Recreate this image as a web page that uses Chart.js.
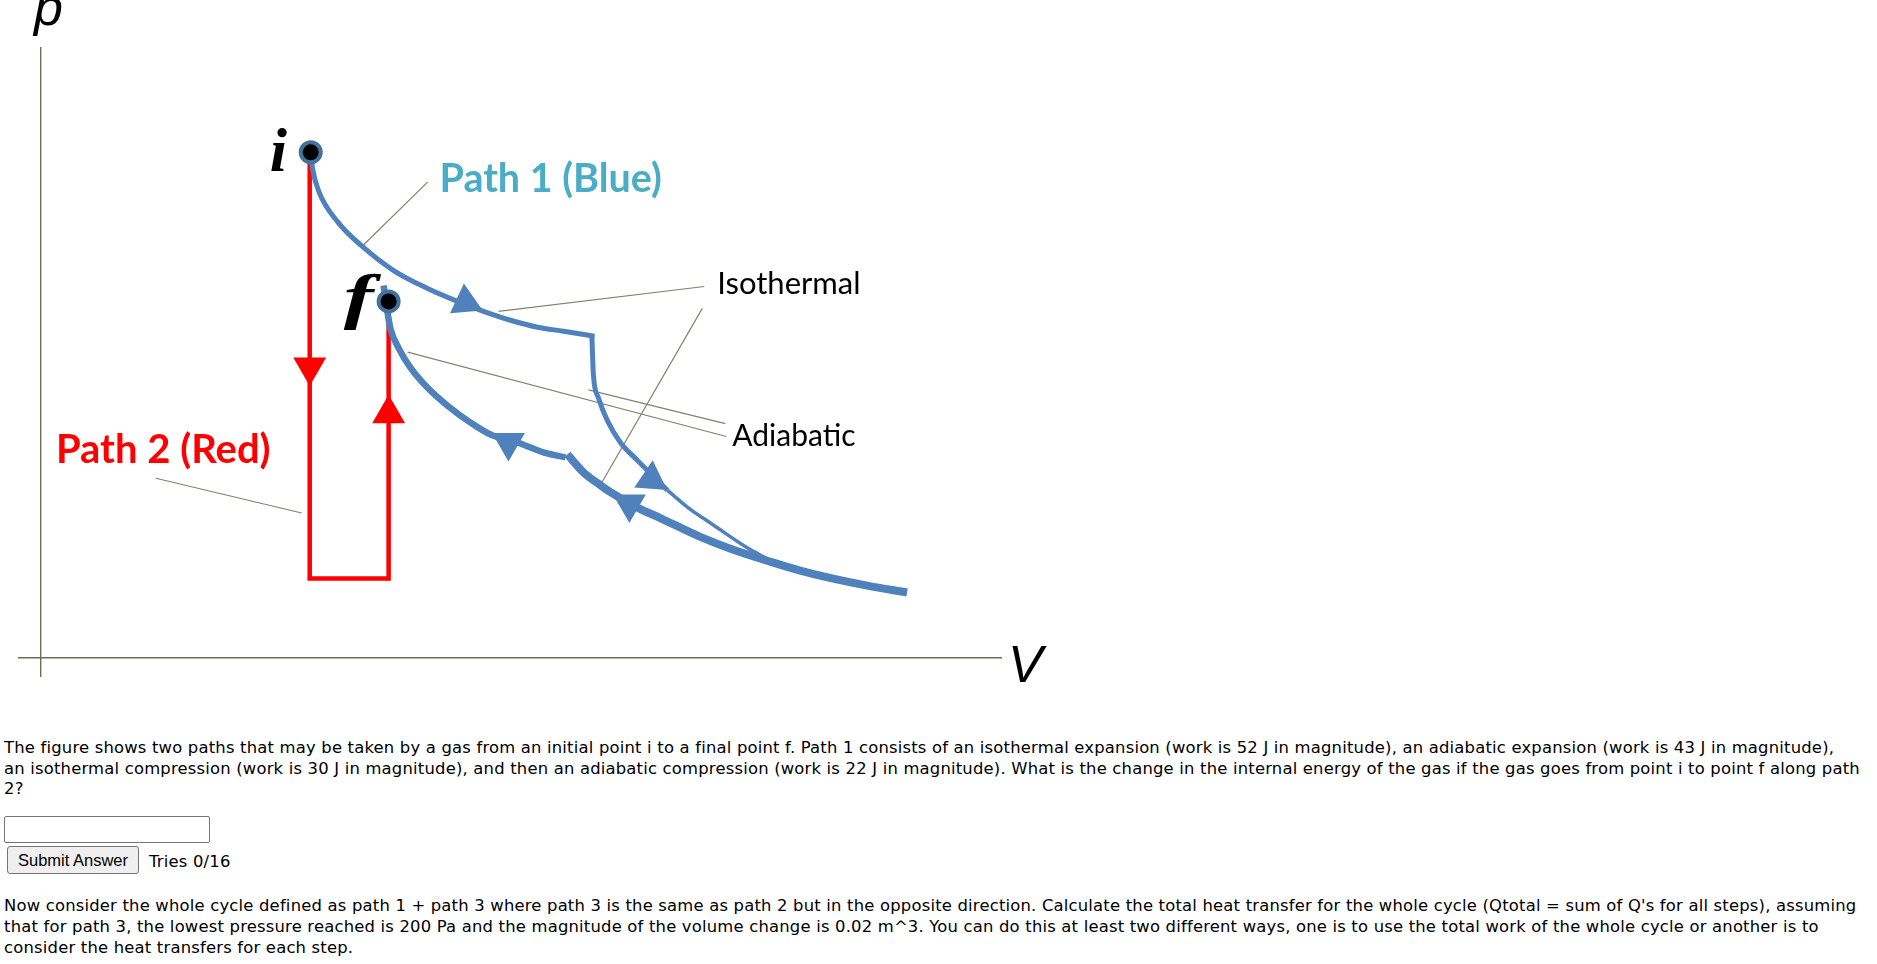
<!DOCTYPE html>
<html>
<head>
<meta charset="utf-8">
<title>Gas paths</title>
<script src="https://cdn.jsdelivr.net/npm/chart.js@4"></script>
<style>
  html, body { margin: 0; padding: 0; background: #fff; overflow: hidden; }
  #chartBox { position: absolute; left: 0; top: 0; width: 1100px; height: 720px; }
  .line { position: absolute; left: 4px; white-space: pre; font: 16.4px/21px "DejaVu Sans", sans-serif; letter-spacing: 0.2px; color: #000; }
  #answer { position: absolute; left: 4px; top: 816px; width: 200px; height: 23px; padding: 1px 2px; border: 1px solid #767676; border-radius: 2px; }
  #submit { position: absolute; left: 7px; top: 846px; width: 132px; height: 28px; padding: 0; font: 16.5px "Liberation Sans", sans-serif; background: #efefef; border: 1px solid #767676; border-radius: 3px; color: #000; }
</style>
</head>
<body>
<div id="chartBox"><canvas id="pvChart" width="1100" height="720"></canvas></div>

<div class="line" style="top:737px">The figure shows two paths that may be taken by a gas from an initial point i to a final point f. Path 1 consists of an isothermal expansion (work is 52 J in magnitude), an adiabatic expansion (work is 43 J in magnitude),</div>
<div class="line" style="top:758px">an isothermal compression (work is 30 J in magnitude), and then an adiabatic compression (work is 22 J in magnitude). What is the change in the internal energy of the gas if the gas goes from point i to point f along path</div>
<div class="line" style="top:778px">2?</div>
<input id="answer" type="text">
<button id="submit" type="button">Submit Answer</button>
<div class="line" style="top:851px;left:149px">Tries 0/16</div>
<div class="line" style="top:895px">Now consider the whole cycle defined as path 1 + path 3 where path 3 is the same as path 2 but in the opposite direction. Calculate the total heat transfer for the whole cycle (Qtotal = sum of Q's for all steps), assuming</div>
<div class="line" style="top:916px">that for path 3, the lowest pressure reached is 200 Pa and the magnitude of the volume change is 0.02 m^3. You can do this at least two different ways, one is to use the total work of the whole cycle or another is to</div>
<div class="line" style="top:937px">consider the heat transfers for each step.</div>

<script>
// values, arbitrary V / p units
const isoUpperV = [270, 272, 278, 297, 322, 353, 387, 417, 443, 470, 497, 523, 554];
const isoUpperP = [509, 492, 470, 439, 414, 390, 372, 359, 349, 340, 333, 329, 324];

const adiUpperV = [551.5, 552, 553, 558, 567, 580, 597, 627];
const adiUpperP = [325, 309, 285, 262, 239, 217, 199, 169];

const adiThinV = [627, 647, 673, 707, 727];
const adiThinP = [169, 152, 134, 111, 100];

const isoLowerV = [527, 543, 560, 570, 598, 620, 660, 693, 727, 760, 793, 827, 867];
const isoLowerP = [205, 187, 174, 167, 151, 141, 122, 109, 98, 88, 80, 73, 66];

const adiLowerV = [343, 345, 347, 350, 358, 370, 387, 407, 430, 450, 477, 503, 525];
const adiLowerP = [375, 360, 347, 331, 312, 292, 272, 254, 237, 225, 217, 207, 202];

const path2V = [269, 269, 348, 348];
const path2P = [509, 80, 80, 359];

const stateV = [270, 348];
const stateP = [509, 359];

const blueArrowV = [425, 611, 589, 468];
const blueArrowP = [358, 180, 155, 217];
const blueArrowAngle = [-5, 4, 180, 180];

const redArrowV = [269, 348];
const redArrowP = [293, 246];
const redArrowAngle = [180, 0];

// callout lines, null breaks the line
const leaderV = [321, 387, null, 458, 664, null, 367, 686, null, 548, 685, null, 561, 662, null, 115, 261];
const leaderP = [414, 479, null, 349, 374, null, 308, 223, null, 270, 236, null, 176, 352, null, 181, 146];

const BLUE = '#4f81bd';
const RED = '#ff0000';

const toPoints = (vs, ps) => vs.map((v, i) => ({ x: v, y: ps[i] }));

function straight(vs, ps, width, color, order) {
    return {
        type: 'line',
        data: toPoints(vs, ps),
        borderColor: color,
        borderWidth: width,
        tension: 0,
        pointRadius: 0,
        fill: false,
        order: order
    };
}

// Monotone keeps the curves from wobbling between read-off points
function smooth(vs, ps, width) {
    const ds = straight(vs, ps, width, BLUE, 4);
    ds.cubicInterpolationMode = 'monotone';
    return ds;
}

function arrows(vs, ps, angles, color) {
    return {
        type: 'scatter',
        data: toPoints(vs, ps),
        showLine: false,
        pointStyle: 'triangle',
        pointRadius: 19,
        pointRotation: angles,
        pointBackgroundColor: color,
        pointBorderWidth: 0,
        order: 3
    };
}

// Text on the figure, anchored in data units so it moves with the scales
const figureText = [
    { text: 'Path 1 (Blue)', v: 399, p: 469, font: 'bold 39.5px Lato', color: '#4bacc6' },
    { text: 'Path 2 (Red)', v: 15, p: 196, font: 'bold 40px Lato', color: RED },
    { text: 'Isothermal', v: 677, p: 366, font: '31px Lato', color: '#000' },
    { text: 'Adiabatic', v: 692, p: 213, font: '30px Lato', color: '#000' },
    { text: 'i', v: 229, p: 490, font: 'italic bold 62px "Liberation Serif"', color: '#000' },
    { text: 'f', v: 303, p: 343, font: 'italic bold 62px "Liberation Serif"', color: '#000', stretch: 1.45 },
    { text: 'V', v: 968, p: -24, font: 'italic 52px "Liberation Sans"', color: '#000' },
    { text: 'p', v: -7, p: 637, font: 'italic 52px "Liberation Sans"', color: '#000' }
];

const textPlugin = {
    id: 'figureText',
    afterDraw(chart) {
        const { ctx, scales } = chart;
        figureText.forEach(t => {
            ctx.save();
            ctx.textBaseline = 'alphabetic';
            ctx.font = t.font;
            ctx.fillStyle = t.color;
            ctx.translate(scales.x.getPixelForValue(t.v), scales.y.getPixelForValue(t.p));
            ctx.scale(t.stretch || 1, 1);
            ctx.fillText(t.text, 0, 0);
            ctx.restore();
        });
    }
};

new Chart(document.getElementById('pvChart'), {
    data: {
        datasets: [
            straight(leaderV, leaderP, 1.2, '#85816f', 6),
            straight(path2V, path2P, 4.5, RED, 5),
            smooth(isoUpperV, isoUpperP, 5),
            smooth(adiUpperV, adiUpperP, 5),
            smooth(adiThinV, adiThinP, 3.5),
            smooth(isoLowerV, isoLowerP, 8),
            smooth(adiLowerV, adiLowerP, 6.5),
            arrows(blueArrowV, blueArrowP, blueArrowAngle, BLUE),
            arrows(redArrowV, redArrowP, redArrowAngle, RED),
            {
                type: 'scatter',
                data: toPoints(stateV, stateP),
                showLine: false,
                pointRadius: 10,
                pointBackgroundColor: '#000',
                pointBorderColor: '#41719c',
                pointBorderWidth: 4,
                order: 2
            }
        ]
    },
    options: {
        responsive: false,
        animation: false,
        clip: false,
        layout: { padding: { left: 18, right: 99, top: 48, bottom: 44 } },
        plugins: { legend: { display: false }, tooltip: { enabled: false } },
        scales: {
            x: {
                type: 'linear',
                position: { y: 0 },
                min: -22,
                max: 961,
                grid: { display: false },
                ticks: { display: false },
                border: { color: '#6f6c58', width: 1.4 }
            },
            y: {
                type: 'linear',
                position: { x: 0 },
                min: -18,
                max: 614,
                grid: { display: false },
                ticks: { display: false },
                border: { color: '#6f6c58', width: 1.4 }
            }
        }
    },
    plugins: [textPlugin]
});
</script>
</body>
</html>
